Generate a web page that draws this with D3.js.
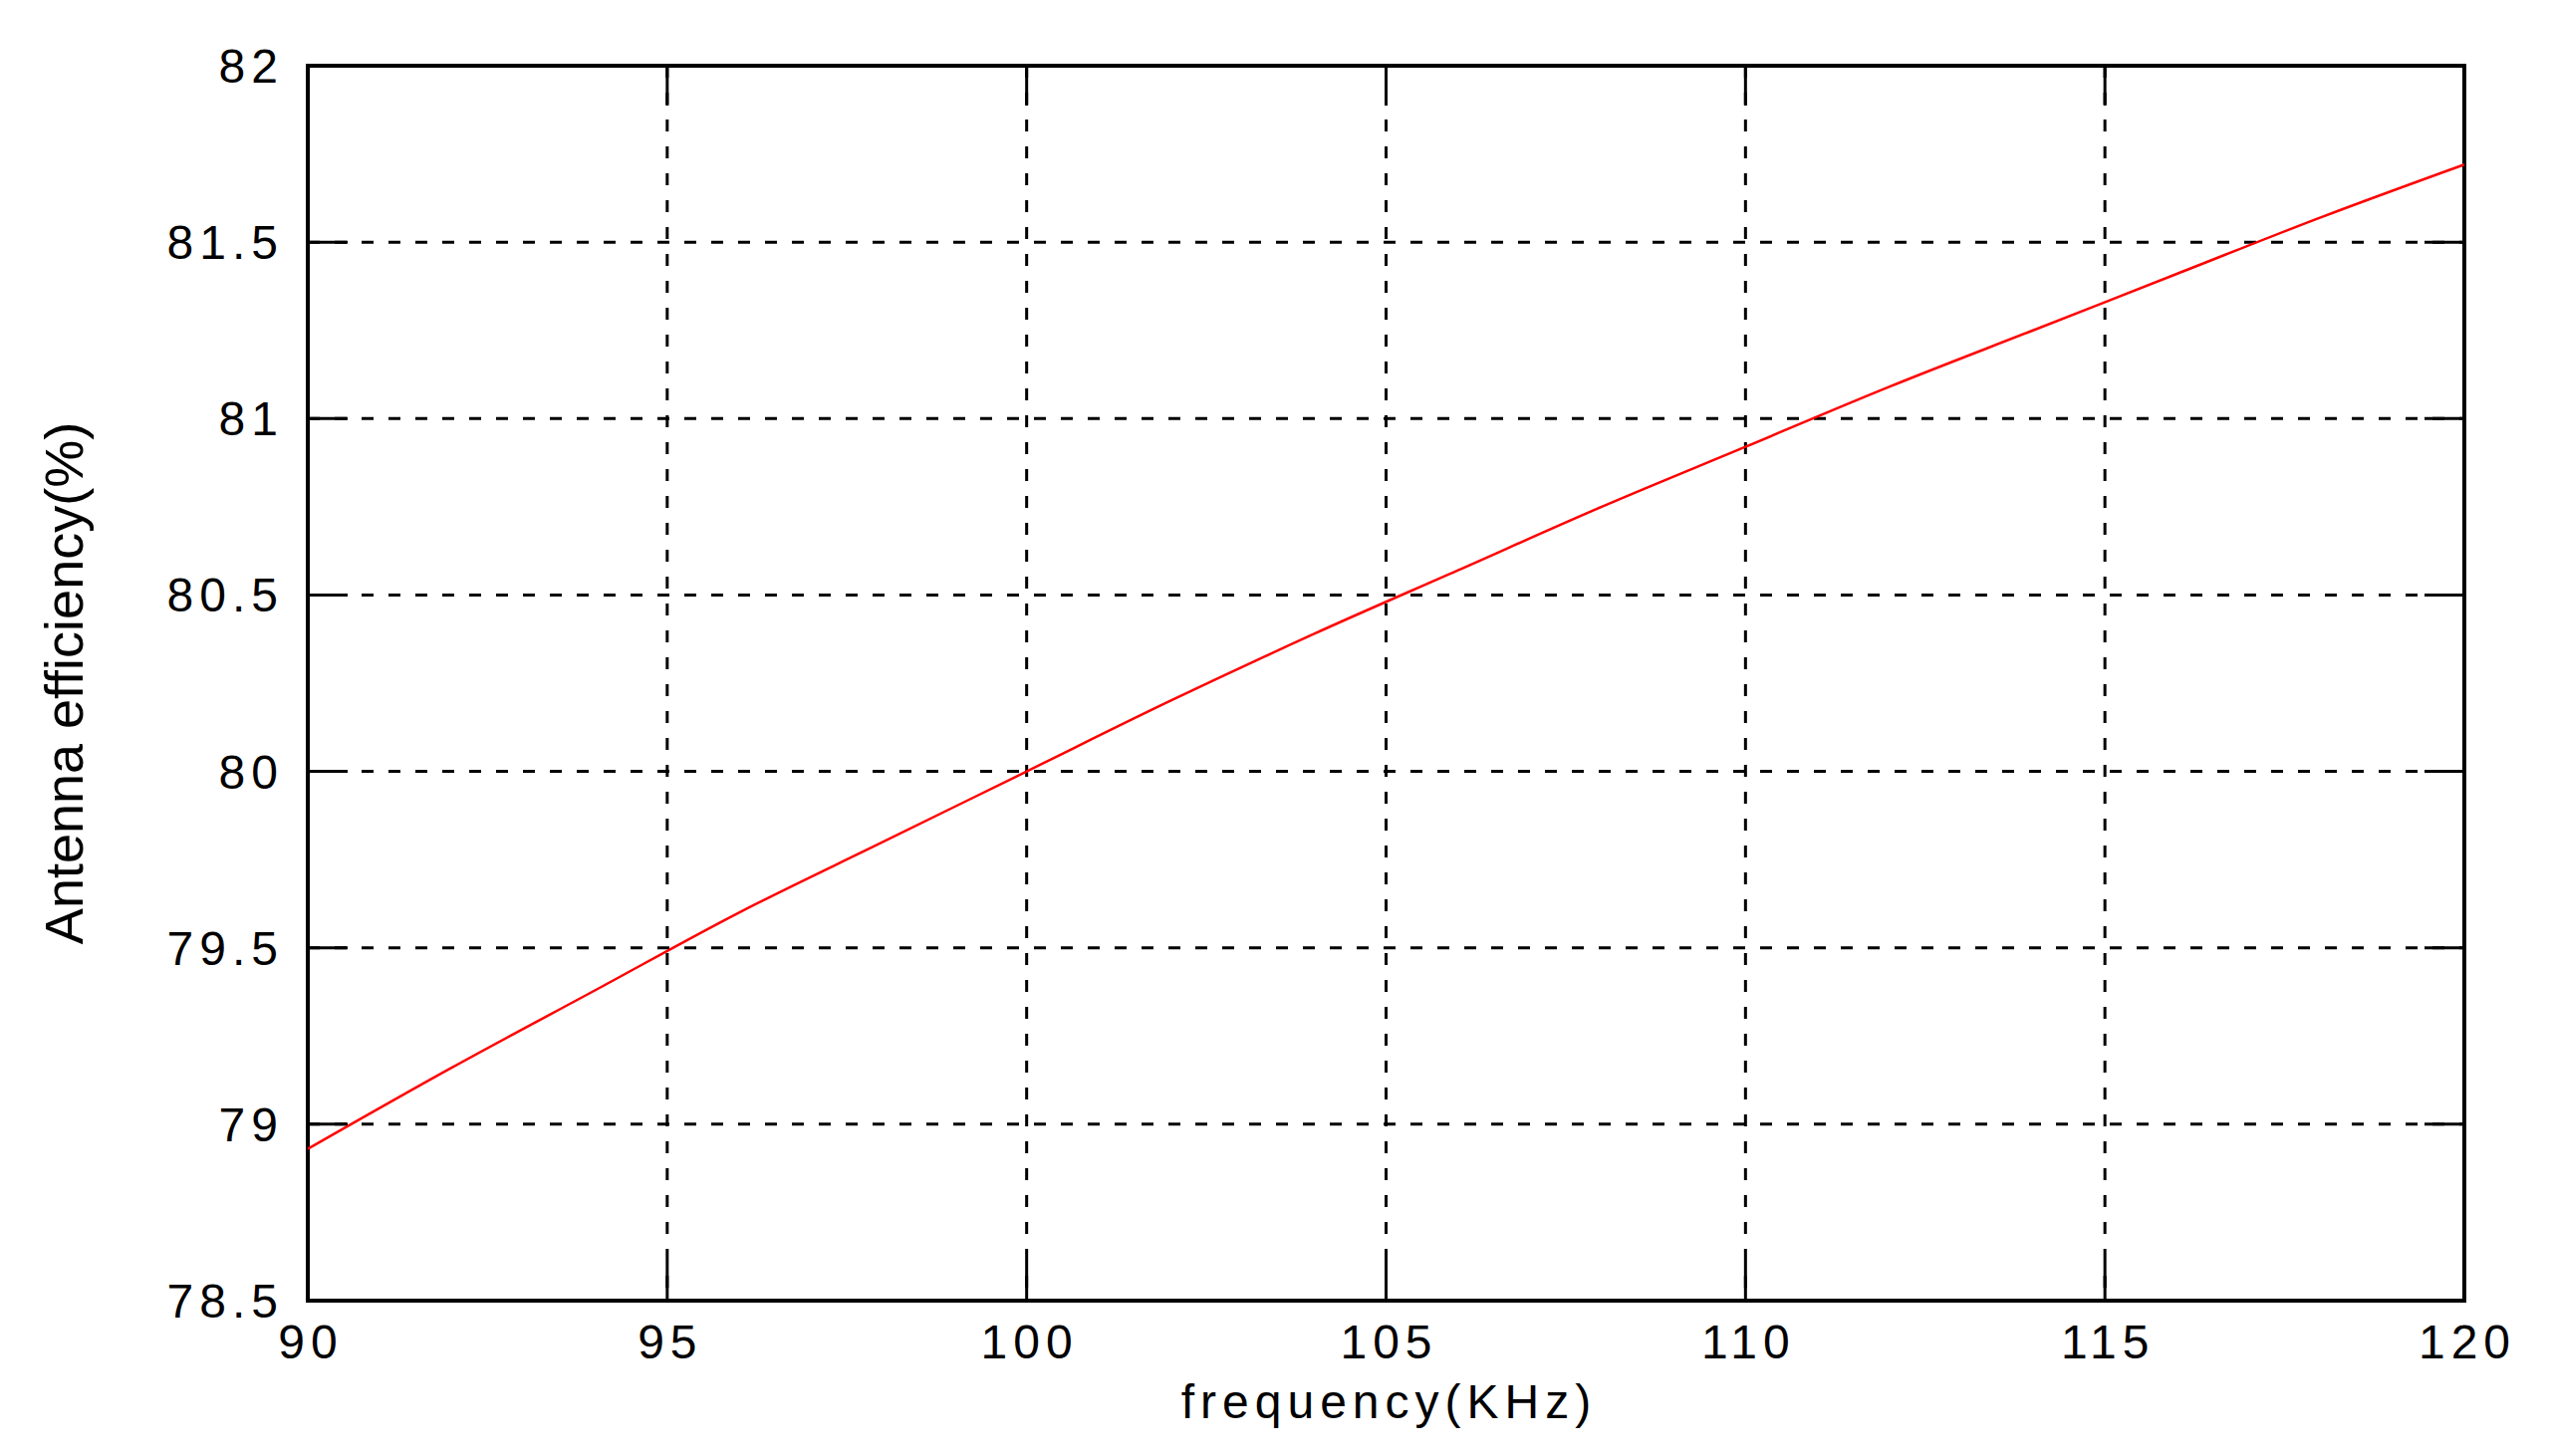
<!DOCTYPE html><html><head><meta charset="utf-8"><script src="https://cdn.jsdelivr.net/npm/d3@7"></script>
<style>body{margin:0;background:#fff}text{font-family:"Liberation Sans",Arial,sans-serif;fill:#000}</style></head><body><svg id="c" width="2562" height="1462"></svg><script>
const freq=[90,92,94,96,98,100,102,104,106,108,110,112,114,116,118,120];
const eff=[78.93,79.16,79.38,79.6,79.8,80.0,80.2,80.39,80.57,80.75,80.92,81.09,81.25,81.41,81.57,81.72];
const xTicks=[90,95,100,105,110,115,120];
const yTicks=[78.5,79,79.5,80,80.5,81,81.5,82];
const L=309,T=66,R=2474,B=1306;
const svg=d3.select("#c");
const x=d3.scaleLinear().domain([90,120]).range([L,R]);
const y=d3.scaleLinear().domain([78.5,82]).range([B,T]);
const g=svg.append("g");
g.selectAll(".gx").data(xTicks.slice(1,-1)).join("line").attr("x1",d=>x(d)).attr("x2",d=>x(d)).attr("y1",T).attr("y2",B).attr("stroke","#000").attr("stroke-width",3).attr("stroke-dasharray","12,15");
g.selectAll(".gy").data(yTicks.slice(1,-1)).join("line").attr("y1",d=>y(d)).attr("y2",d=>y(d)).attr("x1",L).attr("x2",R).attr("stroke","#000").attr("stroke-width",3).attr("stroke-dasharray","12,15");
g.selectAll(".ty").data(yTicks).join("line").attr("y1",d=>y(d)).attr("y2",d=>y(d)).attr("x1",L).attr("x2",L+40).attr("stroke","#000").attr("stroke-width",3);
g.selectAll(".ty2").data(yTicks).join("line").attr("y1",d=>y(d)).attr("y2",d=>y(d)).attr("x1",R).attr("x2",R-40).attr("stroke","#000").attr("stroke-width",3);
g.selectAll(".tx").data(xTicks).join("line").attr("x1",d=>x(d)).attr("x2",d=>x(d)).attr("y1",B).attr("y2",B-40).attr("stroke","#000").attr("stroke-width",3);
g.selectAll(".tx2").data(xTicks).join("line").attr("x1",d=>x(d)).attr("x2",d=>x(d)).attr("y1",T).attr("y2",T+40).attr("stroke","#000").attr("stroke-width",3);
g.append("rect").attr("x",L).attr("y",T).attr("width",R-L).attr("height",B-T).attr("fill","none").attr("stroke","#000").attr("stroke-width",4);
svg.append("path").datum(freq.map((f,i)=>[f,eff[i]])).attr("d",d3.line().curve(d3.curveMonotoneX).x(d=>x(d[0])).y(d=>y(d[1]))).attr("fill","none").attr("stroke","#f00").attr("stroke-width",2.5);
svg.selectAll(".ly").data(yTicks).join("text").attr("x",285).attr("y",d=>y(d)+17).attr("text-anchor","end").attr("font-size",48).attr("letter-spacing",6).text(d=>d);
svg.selectAll(".lx").data(xTicks).join("text").attr("x",d=>x(d)+3).attr("y",1364).attr("text-anchor","middle").attr("font-size",48).attr("letter-spacing",6).text(d=>d);
svg.append("text").attr("x",(L+R)/2+3).attr("y",1424).attr("text-anchor","middle").attr("font-size",48).attr("letter-spacing",6).text("frequency(KHz)");
svg.append("text").attr("transform","translate(83,"+(T+B)/2+") rotate(-90)").attr("text-anchor","middle").attr("font-size",54).text("Antenna efficiency(%)");
</script></body></html>
